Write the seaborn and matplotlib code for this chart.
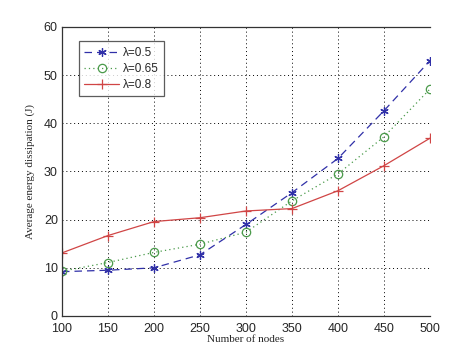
import matplotlib
matplotlib.use("Agg")
import matplotlib.pyplot as plt
import seaborn as sns
import pandas as pd

nodes = [100, 150, 200, 250, 300, 350, 400, 450, 500]
lam_05 = [9.2, 9.5, 10.0, 12.7, 19.0, 25.6, 32.7, 42.6, 53.0]
lam_065 = [9.3, 11.1, 13.2, 14.9, 17.4, 23.9, 29.5, 37.2, 47.1]
lam_08 = [13.1, 16.7, 19.6, 20.4, 21.8, 22.3, 26.0, 31.2, 36.9]
labels = ["λ=0.5", "λ=0.65", "λ=0.8"]
x_ticks = [100, 150, 200, 250, 300, 350, 400, 450, 500]
y_ticks = [0, 10, 20, 30, 40, 50, 60]

sns.set_style("white")
plt.rcParams['font.family'] = ['Liberation Sans', 'DejaVu Sans']

fig = plt.figure(figsize=(4.74, 3.55), dpi=100)
ax = fig.add_axes([0.1308, 0.1099, 0.7762, 0.8141])

styles = [
    dict(color="#3030a8", linestyle=(0, (6, 4)), marker=(6, 2, 0), markersize=6,
         markerfacecolor="#3030a8", markeredgecolor="#3030a8"),
    dict(color="#4a9a4a", linestyle=(0, (1, 2.5)), marker="o", markersize=6,
         markerfacecolor="none", markeredgecolor="#4a9a4a"),
    dict(color="#d04545", linestyle="-", marker="+", markersize=7,
         markeredgecolor="#d04545"),
]
for vals, lab, st in zip([lam_05, lam_065, lam_08], labels, styles):
    df = pd.DataFrame({"nodes": nodes, "val": vals})
    sns.lineplot(data=df, x="nodes", y="val", ax=ax, label=lab, linewidth=0.9,
                 markeredgewidth=0.9, **st)

ax.set_xlim(100, 500)
ax.set_ylim(0, 60)
ax.set_xticks(x_ticks)
ax.set_yticks(y_ticks)
ax.tick_params(labelsize=9, length=0)
ax.tick_params(axis="x", pad=5)
ax.tick_params(axis="y", pad=3)
ax.grid(True, color="black", linestyle=(0, (1, 3)), linewidth=0.7)
for s in ["left", "bottom", "top"]:
    ax.spines[s].set_color("#333333")
    ax.spines[s].set_linewidth(0.9)
ax.spines["right"].set_visible(False)

ax.set_xlabel("Number of nodes", family="Liberation Serif", fontsize=8, labelpad=0)
ax.set_ylabel("Average energy dissipation (J)", family="Liberation Serif", fontsize=8, labelpad=6)

leg = ax.legend(loc="upper left", bbox_to_anchor=(0.045, 0.95), borderaxespad=0,
                fontsize=8.5, frameon=True, fancybox=False, edgecolor="#333333",
                handlelength=3.0, borderpad=0.45, labelspacing=0.35, handletextpad=0.3)
leg.get_frame().set_linewidth(0.9)

fig.savefig("out.png", dpi=100)
